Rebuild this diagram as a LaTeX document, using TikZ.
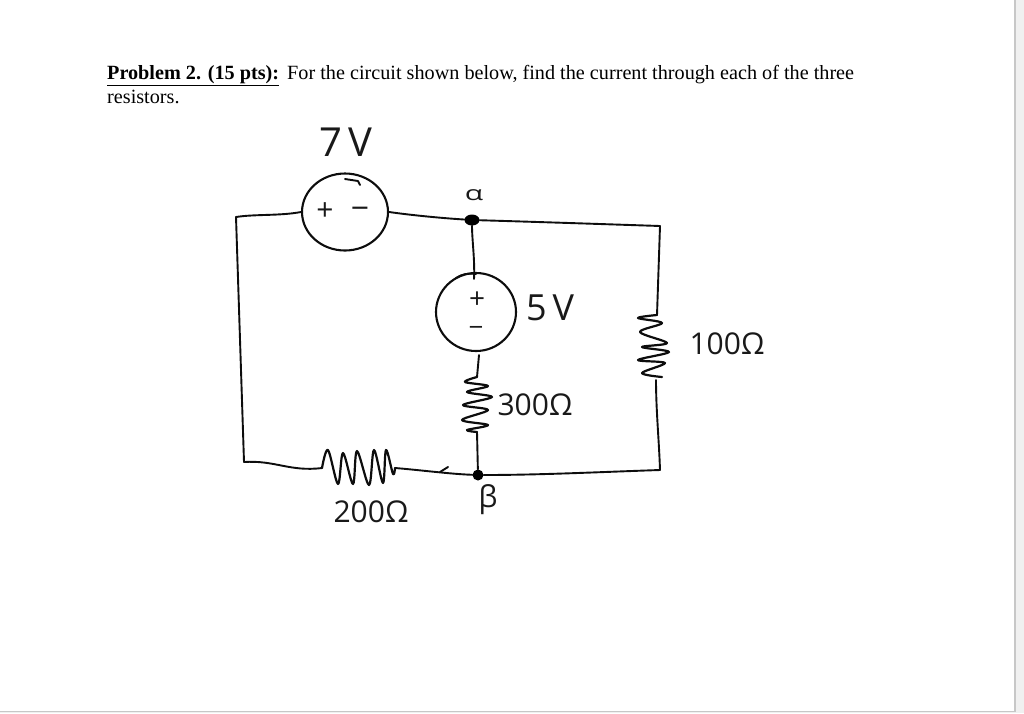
\documentclass[tikz,border=0pt]{standalone}
\usepackage{fontspec}
\setmainfont{Liberation Serif}
\newfontfamily\hand{Open Sans}
\usetikzlibrary{shapes.geometric}
\tikzset{
  x=1pt,y=-1pt,
  wire/.style={line width=1.9pt,line cap=round,line join=round,black!95},
  coil/.style={line width=2.2pt,line cap=round,line join=round,black!95,smooth,tension=0.55},
  source/.style={draw,ellipse,line width=2.1pt,black!95,inner sep=0pt,minimum width=#1},
  junction/.style={ellipse,fill=black,inner sep=0pt,minimum width=11pt,minimum height=11pt},
  prob/.style={anchor=base west,inner sep=0pt,font=\fontsize{20.2}{23}\selectfont},
  lab/.style={inner sep=0pt,black!90,font=\hand\fontsize{#1}{#1}\selectfont},
}
\begin{document}
\begin{tikzpicture}
\useasboundingbox (0,0) rectangle (1024,713);
\fill[white] (0,0) rectangle (1024,713);
\fill[black!6] (1015,0) rectangle (1024,713);
\fill[black!6] (0,712) rectangle (1024,713);
\draw[line width=1.2pt,color=black!22] (0,711.5) -- (1015,711.5) -- (1015,0);

\node[prob] (t1) at (107,79) {\textbf{\underline{Problem 2. (15 pts):}}};
\node[prob] (t2) at (287,79) {For the circuit shown below, find the current through each of the three};
\node[prob] (t3) at (107,103) {resistors.};

% sources and junctions
\node[source=86pt,minimum height=77pt] (vseven) at (345,212) {};
\node[source=80pt,minimum height=78pt] (vfive) at (476,312) {};
\node[junction,minimum width=15pt,minimum height=11pt] (alpha) at (472,220) {};
\node[junction] (beta) at (478,475) {};

% corners and coil ends
\coordinate (tl) at (236,217);
\coordinate (bl) at (244,462);
\coordinate (tr) at (660,226);
\coordinate (br) at (660,470);
\coordinate (rbl) at (322,468);
\coordinate (rbr) at (395,468);
\coordinate (rct) at (477,377);
\coordinate (rcb) at (477,432);
\coordinate (rrt) at (657,315);
\coordinate (rrb) at (656,380);
\coordinate (vfb) at (479,355);
\coordinate (vft) at (474,279);

% wires
\draw[wire] (vseven.west) .. controls (280,216) and (255,214) .. (tl);
\draw[wire] (tl) -- (bl);
\draw[wire] (bl) .. controls (275,460) and (290,472) .. (rbl);
\draw[wire] (rbr) .. controls (420,470) and (450,474) .. (beta);
\draw[wire] (vseven.east) .. controls (410,215) and (440,218) .. (alpha);
\draw[wire] (alpha) .. controls (540,222) and (600,224) .. (tr);
\draw[wire] (tr) -- (rrt);
\draw[wire] (rrb) .. controls (656,410) and (659,440) .. (br);
\draw[wire] (br) .. controls (600,472) and (540,475) .. (beta);
\draw[wire] (alpha) .. controls (472,240) and (475,260) .. (vft);
\draw[wire] (vfb) -- (rct);
\draw[wire] (rcb) -- (beta);

% resistors
\draw[coil] plot coordinates {(rbl) (328,450) (338,484) (343,453) (353,484) (357,451) (369,485) (374,450) (383,483) (386,450) (393,474) (rbr)};
\draw[coil] plot coordinates {(rct) (465,382) (488,386) (467,392) (492,397) (463,405) (488,410) (462,420) (488,425) (467,430) (rcb)};
\draw[coil] plot coordinates {(rrt) (638,318) (662,323) (640,332) (667,343) (642,347) (669,352) (638,360) (665,363) (642,373) (662,377)};

% pen ticks
\draw[wire] (345,179) -- (358,181) -- (360,185);
\draw[wire] (456,278) .. controls (462,274) and (468,273) .. (476,274);
\draw[wire] (440,472) -- (448,467);

% source polarity
\node[lab=30] (p1) at (325,212) {+};
\node[lab=32] (m1) at (360,213) {−};
\node[lab=28] (p2) at (477,300) {+};
\node[lab=26] (m2) at (476,331) {−};

% handwritten labels
\node[lab=40] (l7) at (346,142) {7\,V};
\node[lab=36] (l5) at (550,308) {5\,V};
\node[lab=30] (l300) at (535,405) {300Ω};
\node[lab=30] (l100) at (727,344) {100Ω};
\node[lab=30] (l200) at (371,512) {200Ω};
\node[lab=20,xscale=1.5,transform shape] (la) at (474,195) {α};
\node[lab=30] (lb) at (488,500) {β};
\end{tikzpicture}
\end{document}
